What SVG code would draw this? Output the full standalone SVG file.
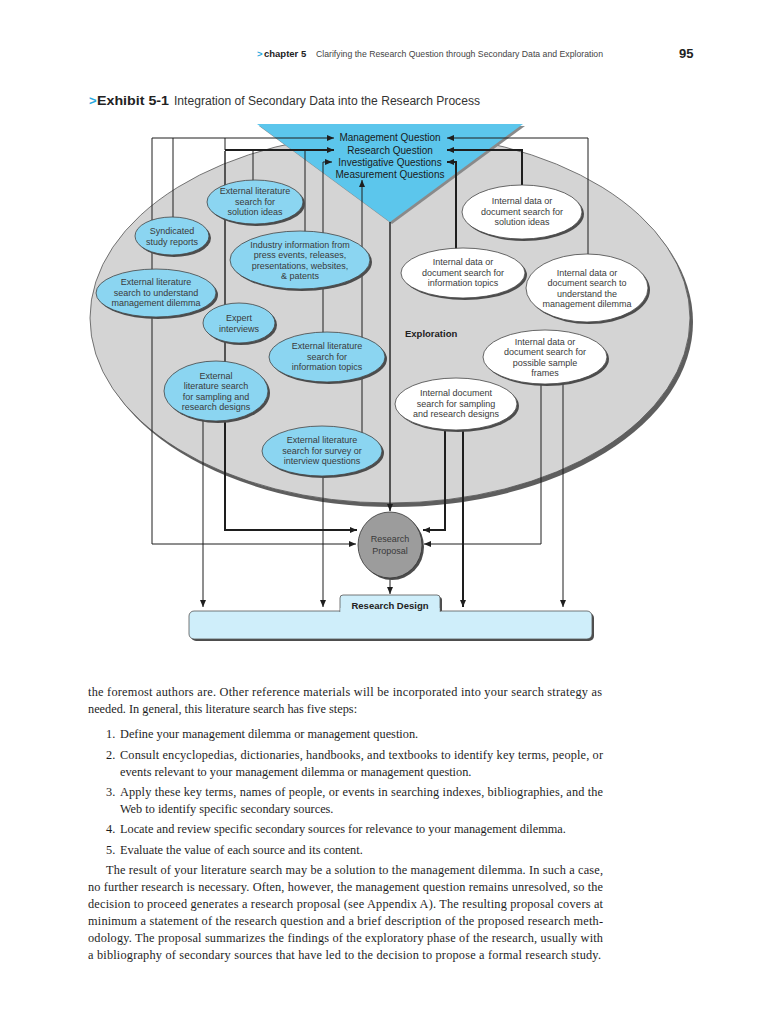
<svg xmlns="http://www.w3.org/2000/svg" width="768" height="1024" viewBox="0 0 768 1024">
<defs>
<style>
.hd{font-family:"Liberation Sans",Arial,sans-serif}
.nt{font-family:"Liberation Sans",Arial,sans-serif;font-size:9px;fill:#3a3a3a;text-anchor:middle}
.tq{font-family:"Liberation Sans",Arial,sans-serif;font-size:10px;fill:#1a1a1a;text-anchor:middle}
.bd{font-family:"Liberation Serif","Times New Roman",serif;font-size:12.3px;fill:#1e1e1e}
.blue{fill:#8bd5f1;stroke:#444;stroke-width:0.8}
.white{fill:#ffffff;stroke:#444;stroke-width:0.8}
.sh{fill:#4d4d4d}
.thin{fill:none;stroke:#1e1e1e;stroke-width:1}
.mid{fill:none;stroke:#1e1e1e;stroke-width:1.4}
.thick{fill:none;stroke:#1e1e1e;stroke-width:2}
</style>
<marker id="ar" markerUnits="userSpaceOnUse" markerWidth="8" markerHeight="6" refX="7" refY="3" orient="auto">
<path d="M0,0 L7,3 L0,6 z" fill="#1e1e1e"/>
</marker>
</defs>
<rect width="768" height="1024" fill="#ffffff"/>

<g id="header">
<text class="hd" x="257" y="57" font-size="9.5" font-weight="bold" fill="#29a8e0">&gt;</text>
<text class="hd" x="264" y="57" font-size="9.5" font-weight="bold" fill="#222">chapter 5</text>
<text class="hd" x="316" y="57" font-size="8.5" fill="#444" textLength="287" lengthAdjust="spacingAndGlyphs">Clarifying the Research Question through Secondary Data and Exploration</text>
<text class="hd" x="679" y="58" font-size="13" font-weight="bold" fill="#222">95</text>
<text class="hd" x="89" y="105" font-size="13" font-weight="bold" fill="#29a8e0">&gt;</text>
<text class="hd" x="97" y="105" font-size="13" font-weight="bold" fill="#222" textLength="72" lengthAdjust="spacingAndGlyphs">Exhibit 5-1</text>
<text class="hd" x="174" y="105" font-size="12.5" fill="#333" textLength="306" lengthAdjust="spacingAndGlyphs">Integration of Secondary Data into the Research Process</text>
</g>

<g id="exploration">
<ellipse cx="393" cy="322" rx="300" ry="185" fill="#5e5e5e"/>
<ellipse cx="390" cy="318" rx="300" ry="185" fill="#d4d4d4" stroke="#555" stroke-width="0.8"/>
<text class="hd" x="405" y="337" font-size="9.5" font-weight="bold" fill="#222">Exploration</text>
</g>

<g id="questions">
<polygon points="259,126 525,126 392,224" fill="#8a8a8a"/>
<polygon points="257,124 523,124 390,222" fill="#5cc6ec"/>
<text class="tq" x="390" y="141">Management Question</text>
<text class="tq" x="390" y="154">Research Question</text>
<text class="tq" x="390" y="166">Investigative Questions</text>
<text class="tq" x="390" y="178">Measurement Questions</text>
</g>

<g id="connectors">
<path class="thin" d="M152,293 V138 H334" marker-end="url(#ar)"/>
<path class="thin" d="M173,236 V138"/>
<path class="thin" d="M225,138 V150"/>
<path class="mid" d="M225,391 V151"/>
<path class="thick" d="M225,150 H334" marker-end="url(#ar)"/>
<path class="thin" d="M253,202 V150"/>
<path class="thin" d="M305,260 V150"/>
<path class="thin" d="M323,357 V162 H332" marker-end="url(#ar)"/>
<path class="thin" d="M362,451 V180" marker-end="url(#ar)"/>
<path class="mid" d="M390,222 V511" marker-end="url(#ar)"/>
<path class="thin" d="M588,288 V138 H447" marker-end="url(#ar)"/>
<path class="thick" d="M522,212 V150 H447" marker-end="url(#ar)"/>
<path class="thick" d="M456,273 V162 H447" stroke-width="1.8" marker-end="url(#ar)"/>
<path class="thin" d="M152,293 V544 H356" marker-end="url(#ar)"/>
<path class="thick" d="M225,391 V530 H357" marker-end="url(#ar)"/>
<path class="thin" d="M203,391 V607" marker-end="url(#ar)"/>
<path class="thin" d="M323,451 V607" marker-end="url(#ar)"/>
<path class="thick" d="M445,404 V530 H423" marker-end="url(#ar)"/>
<path class="thick" d="M463,404 V607" marker-end="url(#ar)"/>
<path class="thin" d="M541,357 V544 H424" marker-end="url(#ar)"/>
<path class="thin" d="M563,357 V607" marker-end="url(#ar)"/>
<path class="thin" d="M390,578 V594" marker-end="url(#ar)"/>
</g>

<g id="ext-solution-ideas">
<ellipse class="sh" cx="257" cy="204" rx="48" ry="22"/>
<ellipse class="blue" cx="255" cy="202" rx="48" ry="22"/>
<text class="nt" x="255" y="194">External literature</text>
<text class="nt" x="255" y="204.5">search for</text>
<text class="nt" x="255" y="215">solution ideas</text>
</g>

<g id="syndicated">
<ellipse class="sh" cx="174" cy="238" rx="37" ry="19"/>
<ellipse class="blue" cx="172" cy="236" rx="37" ry="19"/>
<text class="nt" x="172" y="234">Syndicated</text>
<text class="nt" x="172" y="244.5">study reports</text>
</g>

<g id="ext-mgmt-dilemma">
<ellipse class="sh" cx="158" cy="295" rx="60" ry="24"/>
<ellipse class="blue" cx="156" cy="293" rx="60" ry="24"/>
<text class="nt" x="156" y="285">External literature</text>
<text class="nt" x="156" y="295.5">search to understand</text>
<text class="nt" x="156" y="306">management dilemma</text>
</g>

<g id="industry-info">
<ellipse class="sh" cx="302" cy="262" rx="70" ry="29"/>
<ellipse class="blue" cx="300" cy="260" rx="70" ry="29"/>
<text class="nt" x="300" y="247.5">Industry information from</text>
<text class="nt" x="300" y="258">press events, releases,</text>
<text class="nt" x="300" y="268.5">presentations, websites,</text>
<text class="nt" x="300" y="279">&amp; patents</text>
</g>

<g id="expert-interviews">
<ellipse class="sh" cx="241" cy="325" rx="36" ry="20"/>
<ellipse class="blue" cx="239" cy="323" rx="36" ry="20"/>
<text class="nt" x="239" y="321">Expert</text>
<text class="nt" x="239" y="331.5">interviews</text>
</g>

<g id="ext-info-topics">
<ellipse class="sh" cx="329" cy="359" rx="58" ry="25"/>
<ellipse class="blue" cx="327" cy="357" rx="58" ry="25"/>
<text class="nt" x="327" y="349">External literature</text>
<text class="nt" x="327" y="359.5">search for</text>
<text class="nt" x="327" y="370">information topics</text>
</g>

<g id="ext-sampling">
<ellipse class="sh" cx="218" cy="393" rx="52" ry="30"/>
<ellipse class="blue" cx="216" cy="391" rx="52" ry="30"/>
<text class="nt" x="216" y="378.5">External</text>
<text class="nt" x="216" y="389">literature search</text>
<text class="nt" x="216" y="399.5">for sampling and</text>
<text class="nt" x="216" y="410">research designs</text>
</g>

<g id="ext-survey">
<ellipse class="sh" cx="324" cy="453" rx="60" ry="25"/>
<ellipse class="blue" cx="322" cy="451" rx="60" ry="25"/>
<text class="nt" x="322" y="443">External literature</text>
<text class="nt" x="322" y="453.5">search for survey or</text>
<text class="nt" x="322" y="464">interview questions</text>
</g>

<g id="int-solution-ideas">
<ellipse class="sh" cx="524" cy="214" rx="60" ry="27"/>
<ellipse class="white" cx="522" cy="212" rx="60" ry="27"/>
<text class="nt" x="522" y="204">Internal data or</text>
<text class="nt" x="522" y="214.5">document search for</text>
<text class="nt" x="522" y="225">solution ideas</text>
</g>

<g id="int-info-topics">
<ellipse class="sh" cx="465" cy="275" rx="62" ry="25"/>
<ellipse class="white" cx="463" cy="273" rx="62" ry="25"/>
<text class="nt" x="463" y="265">Internal data or</text>
<text class="nt" x="463" y="275.5">document search for</text>
<text class="nt" x="463" y="286">information topics</text>
</g>

<g id="int-mgmt-dilemma">
<ellipse class="sh" cx="589" cy="290" rx="61" ry="34"/>
<ellipse class="white" cx="587" cy="288" rx="61" ry="34"/>
<text class="nt" x="587" y="275.5">Internal data or</text>
<text class="nt" x="587" y="286">document search to</text>
<text class="nt" x="587" y="296.5">understand the</text>
<text class="nt" x="587" y="307">management dilemma</text>
</g>

<g id="int-sample-frames">
<ellipse class="sh" cx="547" cy="359" rx="62" ry="27"/>
<ellipse class="white" cx="545" cy="357" rx="62" ry="27"/>
<text class="nt" x="545" y="344.5">Internal data or</text>
<text class="nt" x="545" y="355">document search for</text>
<text class="nt" x="545" y="365.5">possible sample</text>
<text class="nt" x="545" y="376">frames</text>
</g>

<g id="int-sampling">
<ellipse class="sh" cx="458" cy="406" rx="61" ry="26"/>
<ellipse class="white" cx="456" cy="404" rx="61" ry="26"/>
<text class="nt" x="456" y="396">Internal document</text>
<text class="nt" x="456" y="406.5">search for sampling</text>
<text class="nt" x="456" y="417">and research designs</text>
</g>

<g id="research-proposal">
<ellipse class="sh" cx="392" cy="547" rx="32" ry="33"/>
<ellipse cx="390" cy="545" rx="32" ry="33" fill="#9c9c9c" stroke="#333" stroke-width="0.8"/>
<text class="nt" x="390" y="542" font-size="9.5">Research</text>
<text class="nt" x="390" y="554" font-size="9.5">Proposal</text>
</g>

<g id="research-design">
<rect x="191" y="613" width="403" height="28" rx="5" fill="#4d4d4d"/>
<path d="M342,613 V600 Q342,597 345,597 H439 Q442,597 442,600 V613 Z" fill="#4d4d4d"/>
<rect x="189" y="611" width="403" height="28" rx="5" fill="#cfeefa" stroke="#555" stroke-width="0.8"/>
<path d="M340,612 V598 Q340,595 343,595 H437 Q440,595 440,598 V612" fill="#cfeefa" stroke="#555" stroke-width="0.8"/>
<rect x="340.5" y="608" width="99" height="5" fill="#cfeefa"/>
<text class="hd" x="390" y="609" font-size="9.5" font-weight="bold" fill="#222" text-anchor="middle">Research Design</text>
</g>

<g id="body-text">
<text class="bd" x="88" y="696" textLength="514" lengthAdjust="spacing">the foremost authors are. Other reference materials will be incorporated into your search strategy as</text>
<text class="bd" x="88" y="713">needed. In general, this literature search has five steps:</text>
<text class="bd" x="106" y="738">1.</text>
<text class="bd" x="120" y="738">Define your management dilemma or management question.</text>
<text class="bd" x="106" y="759">2.</text>
<text class="bd" x="120" y="759" textLength="483" lengthAdjust="spacing">Consult encyclopedias, dictionaries, handbooks, and textbooks to identify key terms, people, or</text>
<text class="bd" x="120" y="776">events relevant to your management dilemma or management question.</text>
<text class="bd" x="106" y="796">3.</text>
<text class="bd" x="120" y="796" textLength="483" lengthAdjust="spacing">Apply these key terms, names of people, or events in searching indexes, bibliographies, and the</text>
<text class="bd" x="120" y="813">Web to identify specific secondary sources.</text>
<text class="bd" x="106" y="833">4.</text>
<text class="bd" x="120" y="833">Locate and review specific secondary sources for relevance to your management dilemma.</text>
<text class="bd" x="106" y="854">5.</text>
<text class="bd" x="120" y="854">Evaluate the value of each source and its content.</text>
<text class="bd" x="106" y="874" textLength="497" lengthAdjust="spacing">The result of your literature search may be a solution to the management dilemma. In such a case,</text>
<text class="bd" x="88" y="891" textLength="515" lengthAdjust="spacing">no further research is necessary. Often, however, the management question remains unresolved, so the</text>
<text class="bd" x="88" y="908" textLength="515" lengthAdjust="spacing">decision to proceed generates a research proposal (see Appendix A). The resulting proposal covers at</text>
<text class="bd" x="88" y="925" textLength="515" lengthAdjust="spacing">minimum a statement of the research question and a brief description of the proposed research meth-</text>
<text class="bd" x="88" y="942" textLength="515" lengthAdjust="spacing">odology. The proposal summarizes the findings of the exploratory phase of the research, usually with</text>
<text class="bd" x="88" y="959" textLength="513" lengthAdjust="spacing">a bibliography of secondary sources that have led to the decision to propose a formal research study.</text>
</g>
</svg>
